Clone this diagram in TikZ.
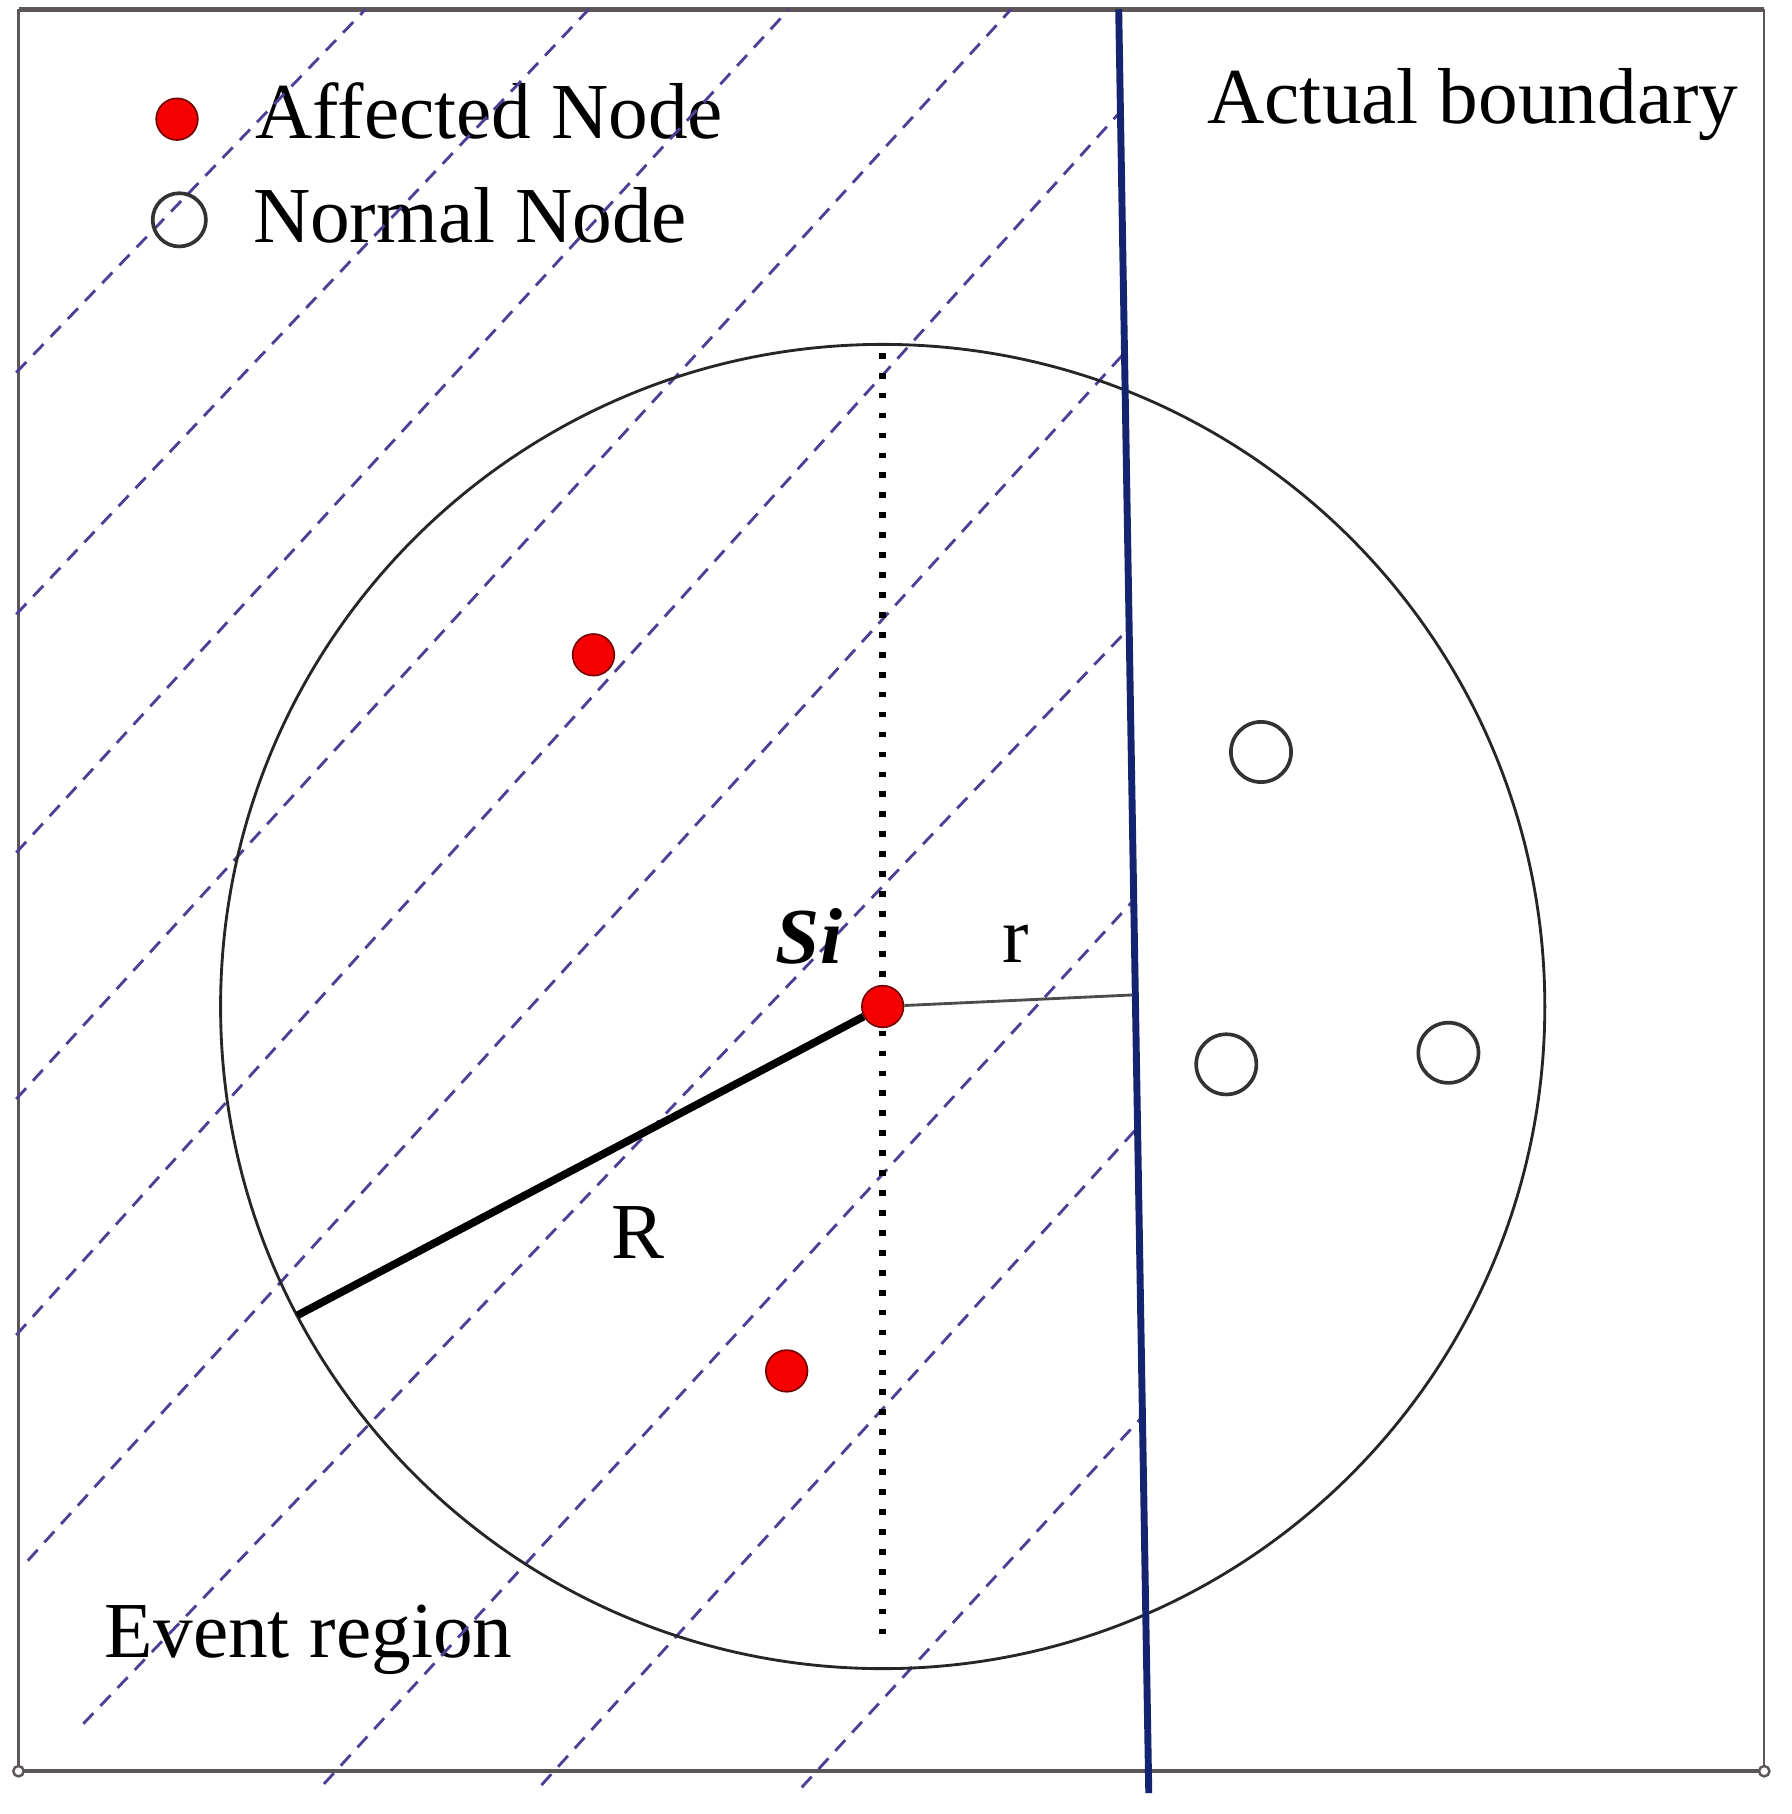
\documentclass[tikz,border=0pt]{standalone}
\usepackage{fontspec}
\setmainfont{Liberation Serif}
\usepackage{xcolor}
\usepackage{tikz}
\usetikzlibrary{calc}

\definecolor{framegray}{RGB}{92,86,86}
\definecolor{hatchblue}{RGB}{78,62,150}
\definecolor{boundblue}{RGB}{20,36,112}
\definecolor{nodered}{RGB}{245,0,0}

\begin{document}
\begin{tikzpicture}[x=0.01cm,y=-0.01cm]
    \tikzstyle{frame}=[line width=1.1pt,color=framegray]
    \tikzstyle{frame side}=[line width=0.6pt,color=framegray]
    \tikzstyle{hatch}=[line width=0.7pt,color=hatchblue,dash pattern=on 3.6pt off 2.5pt]
    \tikzstyle{boundary}=[line width=1.7pt,color=boundblue]
    \tikzstyle{sensing circle}=[line width=0.7pt,color=black!85]
    \tikzstyle{radius big}=[line width=1.9pt,color=black]
    \tikzstyle{radius small}=[line width=0.7pt,color=black!70]
    \tikzstyle{centre dots}=[line width=1.6pt,color=black,dash pattern=on 1.4pt off 3.5pt]
    \tikzstyle{affected}=[circle,fill=nodered,draw=red!45!black,line width=0.4pt,minimum size=0.36cm,inner sep=0pt]
    \tikzstyle{normal}=[circle,fill=white,draw=black!80,line width=0.9pt,minimum size=0.52cm,inner sep=0pt]
    \tikzstyle{label text}=[font=\fontsize{19.5}{23}\selectfont,inner sep=0pt,anchor=base west]

    \useasboundingbox (0,0) rectangle (1549,1568);

    \coordinate (s_i) at (763,870);
    \coordinate (b_top) at (967,8);
    \coordinate (b_bot) at (993,1550);
    \coordinate (d_top) at (763,305);
    \coordinate (d_bot) at (763,1425);
    \coordinate (r_big) at (257,1137);
    \coordinate (r_small) at (979,860);

    % Frame
    \draw[style=frame side] (16,8) -- (16,1531);
    \draw[style=frame side] (1525,8) -- (1525,1531);
    \draw[style=frame] (16,8) -- (1525,8);
    \draw[style=frame] (16,1531) -- (1525,1531);
    \filldraw[style=frame side,fill=white] (16,1531) circle[radius=0.045cm];
    \filldraw[style=frame side,fill=white] (1525,1531) circle[radius=0.045cm];

    % Labels
    \node[style=label text] (affected label) at (220,120) {Affected Node};
    \node[style=label text] (normal label) at (218,210) {Normal Node};
    \node[style=label text] (boundary label) at (1043,107) {Actual boundary};
    \node[style=label text] (event label) at (90,1433) {Event region};

    % Event region
    \draw[style=hatch] (14,322) -- (316,8);
    \draw[style=hatch] (14,531) -- (509,8);
    \draw[style=hatch] (14,737) -- (682,8);
    \draw[style=hatch] (14,950) -- (874,8);
    \draw[style=hatch] (14,1154) -- (968,97);
    \draw[style=hatch] (24,1349) -- (972,305);
    \draw[style=hatch] (72,1490) -- (976,543);
    \draw[style=hatch] (280,1542) -- (980,778);
    \draw[style=hatch] (468,1543) -- (983,975);
    \draw[style=hatch] (693,1545) -- (987,1225);

    % Range of Si
    \draw[style=sensing circle] (s_i) circle[radius=5.72cm];
    \draw[style=centre dots] (d_top) -- (d_bot);

    % Actual boundary
    \draw[style=boundary] (b_top) -- (b_bot);

    % Legend
    \node[style=affected] (legend affected) at (153,103) {};
    \node[style=normal,fill=none,minimum size=0.46cm] (legend normal) at (155,190) {};

    % Nodes
    \node[style=affected] (si) at (s_i) {};
    \node[style=affected] (a_1) at (513,566) {};
    \node[style=affected] (a_2) at (680,1185) {};
    \node[style=normal] (n_1) at (1090,650) {};
    \node[style=normal] (n_2) at (1060,920) {};
    \node[style=normal] (n_3) at (1252,910) {};

    % Radii
    \draw[style=radius big] (si) -- (r_big);
    \draw[style=radius small] (si) -- (r_small);
    \node[style=label text] (si label) at (670,833) {\textbf{\textit{Si}}};
    \node[style=label text] (r label) at (866,832) {r};
    \node[style=label text] (R label) at (528,1088) {R};

\end{tikzpicture}
\end{document}
